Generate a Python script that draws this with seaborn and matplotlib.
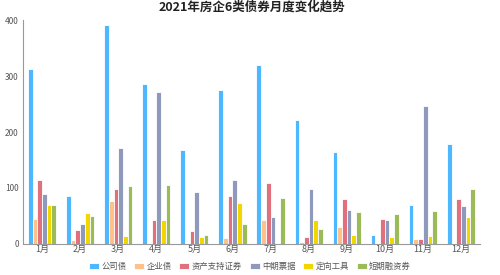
import matplotlib
matplotlib.use("Agg")
import matplotlib.pyplot as plt
import seaborn as sns
import pandas as pd
import numpy as np

months = ["1月", "2月", "3月", "4月", "5月", "6月", "7月", "8月", "9月", "10月", "11月", "12月"]
series_names = ["公司债", "企业债", "资产支持证券", "中期票据", "定向工具", "短期融资券"]
gongsi = [313, 86, 391, 285, 168, 275, 320, 222, 164, 16, 70, 178]
qiye = [45, 7, 76, 0, 0, 11, 43, 4, 31, 0, 8, 0]
zichan = [115, 24, 98, 43, 23, 86, 108, 12, 81, 44, 9, 80]
zhongqi = [89, 36, 171, 271, 92, 115, 49, 98, 60, 43, 246, 67]
dingxiang = [69, 55, 15, 43, 12, 74, 0, 42, 16, 13, 15, 48]
duanqi = [69, 50, 104, 105, 16, 36, 82, 27, 57, 53, 58, 98]
colors = ["#4db8ff", "#ffc08a", "#e0707c", "#8e99bb", "#f2d600", "#9bbb59"]

rows = []
for name, vals in zip(series_names, [gongsi, qiye, zichan, zhongqi, dingxiang, duanqi]):
    for m, v in zip(months, vals):
        rows.append({"month": m, "type": name, "value": v})
df = pd.DataFrame(rows)

sns.set_theme(style="white")
plt.rcParams["font.family"] = ["Noto Sans CJK SC", "DejaVu Sans"]

fig = plt.figure(figsize=(5, 2.75), dpi=100)
ax = fig.add_axes([0.046, 0.113, 0.914, 0.814])
sns.barplot(data=df, x="month", y="value", hue="type", order=months,
            hue_order=series_names, palette=colors, width=0.74, saturation=1,
            edgecolor="white", linewidth=0.6, ax=ax, legend=True)

ax.set_ylim(0, 400)
ax.set_xlim(-0.5, 11.5)
ax.set_yticks([0, 100, 200, 300, 400])
ax.tick_params(axis="y", labelsize=6, colors="#555555", length=2, width=0.6, pad=1)
ax.tick_params(axis="x", labelsize=6.5, colors="#555555", length=0, pad=1)
ax.set_xticks(np.arange(-0.5, 12, 1), minor=True)
ax.tick_params(axis="x", which="minor", length=2, width=0.6, color="#999999")
ax.set_xlabel("")
ax.set_ylabel("")
for s in ["top", "right"]:
    ax.spines[s].set_visible(False)
for s in ["left", "bottom"]:
    ax.spines[s].set_color("#999999")
    ax.spines[s].set_linewidth(0.8)

ax.set_title("2021年房企6类债券月度变化趋势", fontsize=9, fontweight="bold",
             color="#222222", pad=7)
handles, labels = ax.get_legend_handles_labels()
ax.get_legend().remove()
leg = fig.legend(handles, labels, loc="lower center", bbox_to_anchor=(0.5, -0.005), ncol=6,
                 frameon=False, fontsize=6, handlelength=1.2, handleheight=0.7,
                 handletextpad=0.3, columnspacing=0.9, borderpad=0.2)
for t in leg.get_texts():
    t.set_color("#555555")

fig.savefig("out.png", dpi=100)
